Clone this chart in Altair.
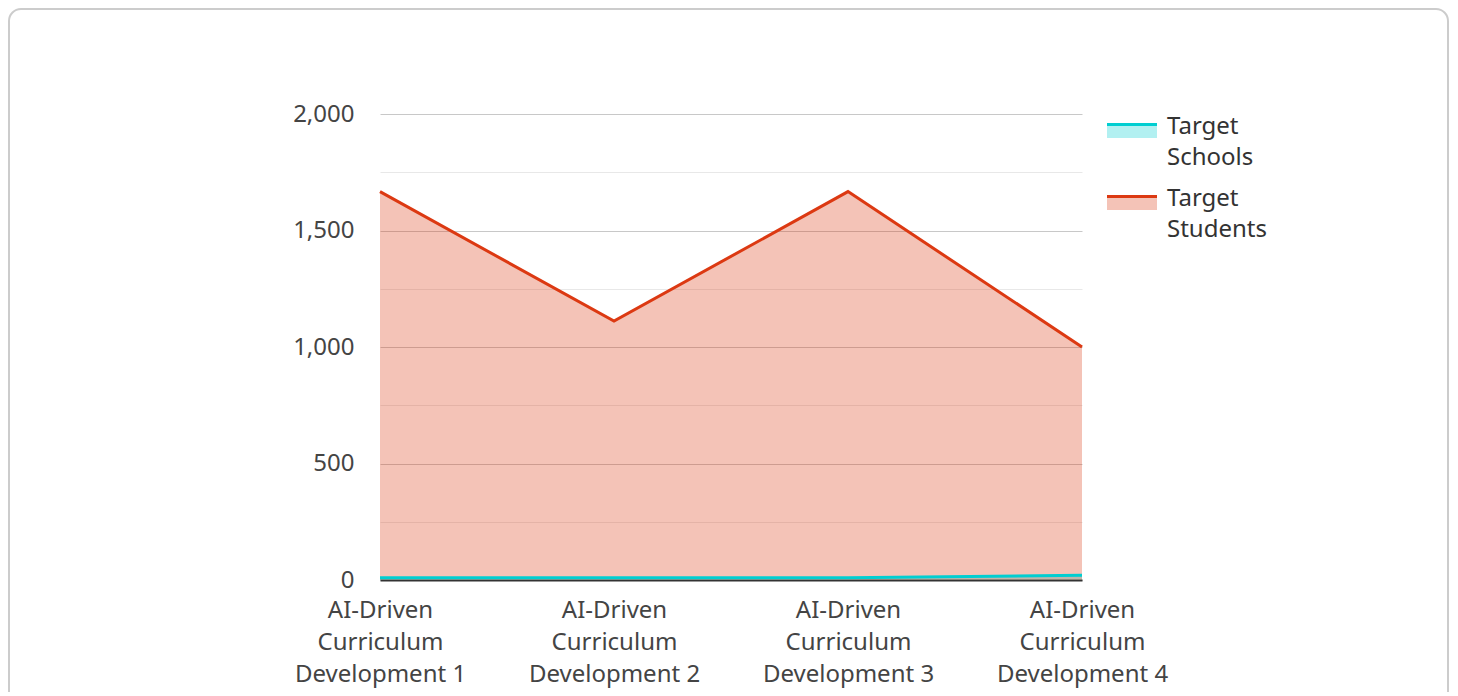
import altair as alt
import pandas as pd

categories = [
    "AI-Driven Curriculum Development 1",
    "AI-Driven Curriculum Development 2",
    "AI-Driven Curriculum Development 3",
    "AI-Driven Curriculum Development 4",
]
series = ["Target Schools", "Target Students"]
target_schools = [10, 10, 10, 20]
target_students = [1667, 1111, 1667, 1000]
colors = ["#00CED1", "#DC3912"]
y_ticks = [0, 250, 500, 750, 1000, 1250, 1500, 1750, 2000]

rows = []
for c, v in zip(categories, target_schools):
    rows.append({"category": c, "series": series[0], "value": v})
for c, v in zip(categories, target_students):
    rows.append({"category": c, "series": series[1], "value": v})
df = pd.DataFrame(rows)

FONT = "Noto Sans"

x_enc = alt.X(
    "category:N",
    sort=categories,
    scale=alt.Scale(type="point", padding=0),
    axis=alt.Axis(
        title=None,
        labelAngle=0,
        labelOverlap=False,
        labelExpr="[split(datum.label, ' ')[0], split(datum.label, ' ')[1], split(datum.label, ' ')[2] + ' ' + split(datum.label, ' ')[3]]",
        labelFontSize=24,
        labelColor="#444444",
        labelLineHeight=32,
        labelPadding=18,
        ticks=False,
        tickSize=0,
        grid=False,
        domainColor="#333333",
        domainWidth=2,
    ),
)
y_enc = alt.Y(
    "value:Q",
    stack=None,
    scale=alt.Scale(domain=[0, 2000], nice=False, zero=True),
    axis=alt.Axis(
        title=None,
        values=y_ticks,
        labelExpr="datum.value % 500 === 0 ? format(datum.value, ',') : ''",
        labelFontSize=24,
        labelColor="#444444",
        labelPadding=26,
        ticks=False,
        tickSize=0,
        domain=False,
        gridColor={"condition": {"test": "datum.value % 500 === 0", "value": "#c8c8c8"}, "value": "#e8e8e8"},
        gridWidth=1,
    ),
)
color_enc = alt.Color(
    "series:N", scale=alt.Scale(domain=series, range=colors), legend=None
)

base = alt.Chart(df).encode(x=x_enc, y=y_enc, color=color_enc)
areas = base.mark_area(fillOpacity=0.3, strokeWidth=0)
lines = base.mark_line(strokeWidth=3)

one = alt.Data(values=[{"k": 1}])

card = alt.Chart(one).mark_rect(
    filled=False, stroke="#cccccc", strokeWidth=2, cornerRadius=12
).encode(
    x=alt.value(-371), x2=alt.value(1068), y=alt.value(-105), y2=alt.value(720)
)

legend_layers = []
for i, (name, col) in enumerate(zip(series, colors)):
    top = 9 + i * 72
    legend_layers.append(
        alt.Chart(one).mark_rect(color=col, opacity=0.3).encode(
            x=alt.value(727), x2=alt.value(777), y=alt.value(top), y2=alt.value(top + 15)
        )
    )
    legend_layers.append(
        alt.Chart(one).mark_rect(color=col).encode(
            x=alt.value(727), x2=alt.value(777), y=alt.value(top), y2=alt.value(top + 3)
        )
    )
    legend_layers.append(
        alt.Chart(one).mark_text(
            text=name.replace(" ", "\n"),
            lineBreak="\n",
            lineHeight=31,
            align="left",
            baseline="alphabetic",
            font=FONT,
            fontSize=24,
            color="#333333",
        ).encode(x=alt.value(787), y=alt.value(top + 11))
    )

chart = alt.layer(areas, lines, *legend_layers, card).properties(
    width=702,
    height=466,
    autosize=alt.AutoSizeParams(type="none"),
    padding={"left": 372, "top": 106, "right": 368, "bottom": 112},
).configure(
    font=FONT,
    background="white",
    view=alt.ViewConfig(strokeWidth=0, stroke="transparent"),
)

chart.save("out.html", embed_options={"renderer": "svg", "actions": False})
